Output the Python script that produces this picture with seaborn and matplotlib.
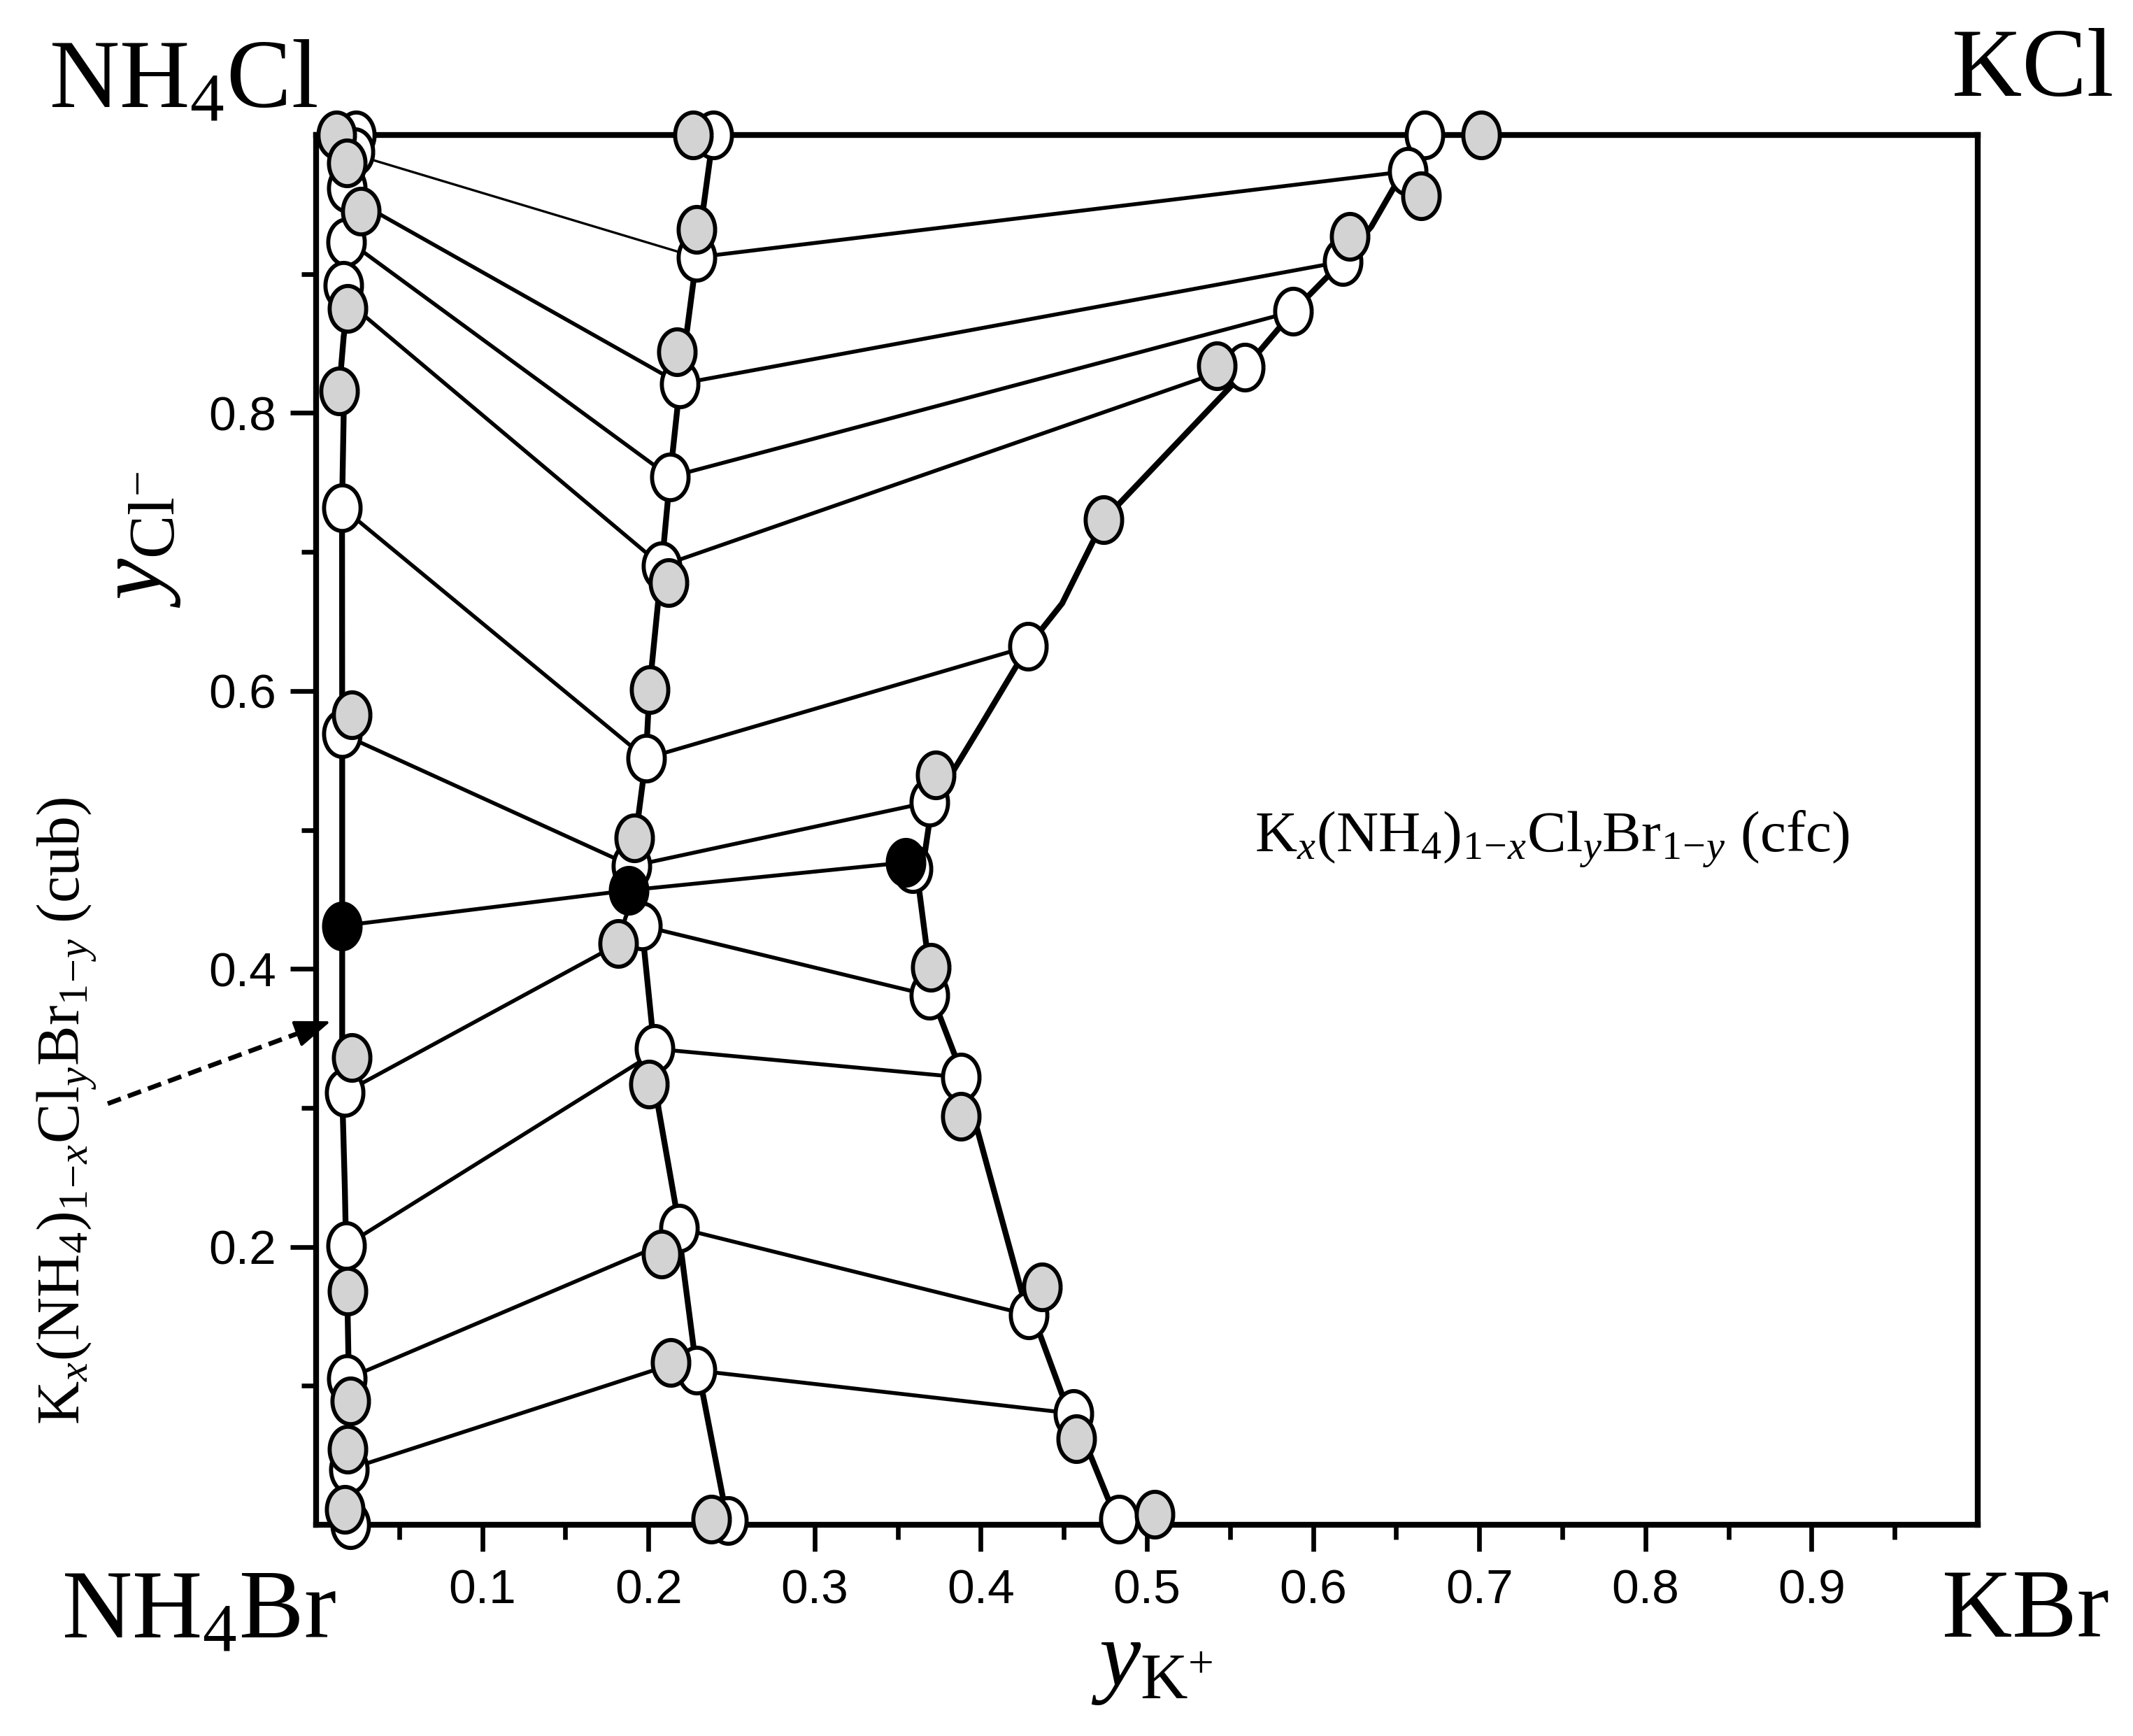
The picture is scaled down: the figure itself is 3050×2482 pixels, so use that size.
import numpy as np
import matplotlib
matplotlib.use("Agg")
import matplotlib.pyplot as plt
import matplotlib.font_manager as fm
from matplotlib.path import Path
import seaborn as sns

# ---------------- data ----------------
# branch curves (solid thick lines)
left_curve_x = [0.020, 0.019, 0.0166, 0.0147, 0.0166, 0.0156, 0.0157, 0.0157, 0.0157, 0.0173, 0.018, 0.019, 0.0197, 0.0205]
left_curve_y = [1.000, 0.875, 0.855, 0.828, 0.799, 0.732, 0.569, 0.431, 0.311, 0.242, 0.201, 0.151, 0.105, 0.000]

mid_curve_x = [0.239, 0.229, 0.219, 0.213, 0.208, 0.2006, 0.1985, 0.190, 0.188, 0.196, 0.2035, 0.206, 0.217, 0.220, 0.229, 0.2325, 0.248]
mid_curve_y = [1.000, 0.912, 0.821, 0.754, 0.690, 0.601, 0.5515, 0.474, 0.4565, 0.431, 0.3425, 0.300, 0.225, 0.194, 0.111, 0.0956, 0.000]

right_curve_x = [0.667, 0.657, 0.649, 0.635, 0.611, 0.588, 0.566, 0.552, 0.474, 0.449, 0.4285, 0.400, 0.384, 0.369, 0.363, 0.3674, 0.3747, 0.385, 0.398, 0.4245, 0.435, 0.4507, 0.466, 0.483]
right_curve_y = [1.000, 0.974, 0.963, 0.934, 0.901, 0.873, 0.842, 0.821, 0.723, 0.663, 0.632, 0.575, 0.5435, 0.505, 0.456, 0.4155, 0.368, 0.336, 0.284, 0.168, 0.139, 0.088, 0.050, 0.000]

# open circles (experimental)
white_x = [0.024, 0.023, 0.0185, 0.018, 0.0166, 0.0156, 0.0155, 0.0173, 0.018, 0.0186, 0.0197, 0.0207,
           0.239, 0.229, 0.219, 0.213, 0.208, 0.1985, 0.190, 0.196, 0.2035, 0.2186, 0.229, 0.248,
           0.667, 0.657, 0.618, 0.588, 0.559, 0.4285, 0.369, 0.359, 0.369, 0.388, 0.4287, 0.456, 0.483]
white_y = [1.000, 0.988, 0.962, 0.923, 0.892, 0.732, 0.569, 0.311, 0.201, 0.105, 0.040, 0.000,
           1.000, 0.912, 0.821, 0.754, 0.690, 0.5515, 0.474, 0.431, 0.3425, 0.2134, 0.111, 0.003,
           1.000, 0.974, 0.909, 0.873, 0.833, 0.632, 0.520, 0.472, 0.381, 0.322, 0.151, 0.080, 0.004]

# grey circles (calculated)
grey_x = [0.012, 0.0185, 0.027, 0.019, 0.014, 0.0214, 0.0214, 0.019, 0.0207, 0.019, 0.0173,
          0.227, 0.229, 0.217, 0.212, 0.2006, 0.1917, 0.182, 0.2003, 0.208, 0.2134, 0.238,
          0.701, 0.665, 0.622, 0.542, 0.474, 0.373, 0.370, 0.388, 0.437, 0.4577, 0.5046]
grey_y = [1.000, 0.980, 0.945, 0.875, 0.816, 0.583, 0.336, 0.168, 0.089, 0.0545, 0.011,
          1.000, 0.932, 0.844, 0.678, 0.601, 0.494, 0.418, 0.317, 0.195, 0.117, 0.004,
          1.000, 0.956, 0.927, 0.834, 0.723, 0.5395, 0.401, 0.294, 0.171, 0.0617, 0.0075]

# filled black circles (three-phase points)
black_x = [0.0155, 0.188, 0.355]
black_y = [0.431, 0.4565, 0.4766]

# tie lines
tie_x1 = [0.023, 0.025, 0.018, 0.019, 0.0156, 0.0155, 0.0155, 0.0173, 0.018, 0.0186, 0.0197,
          0.229, 0.219, 0.213, 0.208, 0.1985, 0.190, 0.188, 0.196, 0.2035, 0.2186, 0.229]
tie_y1 = [0.986, 0.952, 0.925, 0.880, 0.732, 0.569, 0.431, 0.311, 0.201, 0.105, 0.040,
          0.912, 0.821, 0.754, 0.690, 0.5515, 0.474, 0.4565, 0.431, 0.3425, 0.2134, 0.111]
tie_x2 = [0.229, 0.219, 0.213, 0.208, 0.1985, 0.190, 0.188, 0.182, 0.200, 0.205, 0.213,
          0.657, 0.618, 0.588, 0.545, 0.4285, 0.369, 0.355, 0.369, 0.388, 0.4287, 0.456]
tie_y2 = [0.912, 0.821, 0.754, 0.690, 0.5515, 0.474, 0.4565, 0.418, 0.337, 0.200, 0.115,
          0.974, 0.909, 0.873, 0.830, 0.632, 0.520, 0.4766, 0.381, 0.322, 0.151, 0.080]
tie_lw = [1.2] + [2.0] * 21

x_major = [0.1, 0.2, 0.3, 0.4, 0.5, 0.6, 0.7, 0.8, 0.9]
x_labels = ['0.1', '0.2', '0.3', '0.4', '0.5', '0.6', '0.7', '0.8', '0.9']
x_minor = [0.05, 0.15, 0.25, 0.35, 0.45, 0.55, 0.65, 0.75, 0.85, 0.95]
y_major = [0.2, 0.4, 0.6, 0.8]
y_labels = ['0.2', '0.4', '0.6', '0.8']
y_minor = [0.1, 0.3, 0.5, 0.7, 0.9]

arrow_tail = (-0.1254, 0.303)
arrow_base = (-0.0093, 0.3543)
arrow_tip = (0.0088, 0.3623)

# ---------------- style ----------------
sns.set_theme(style="ticks")
plt.rcParams['font.family'] = ['Liberation Serif', 'DejaVu Serif']
plt.rcParams['mathtext.fontset'] = 'custom'
plt.rcParams['mathtext.rm'] = 'Liberation Serif'
plt.rcParams['mathtext.it'] = 'Liberation Serif:italic'
plt.rcParams['mathtext.bf'] = 'Liberation Serif:bold'
plt.rcParams['text.color'] = 'black'
plt.rcParams['axes.labelcolor'] = 'black'
plt.rcParams['xtick.color'] = 'black'
plt.rcParams['ytick.color'] = 'black'

names = {f.name for f in fm.fontManager.ttflist}
if 'Liberation Sans Narrow' in names:
    tick_font, tick_size = 'Liberation Sans Narrow', 30
else:
    tick_font, tick_size = 'Liberation Sans', 25

fig = plt.figure(figsize=(15.25, 12.41), dpi=200)
ax = fig.add_axes([452 / 3050, 302 / 2482, 2376 / 3050, 1987 / 2482])
ax.set_xlim(0, 1)
ax.set_ylim(0, 1)

# branch curves
for cx, cy in [(left_curve_x, left_curve_y), (mid_curve_x, mid_curve_y), (right_curve_x, right_curve_y)]:
    sns.lineplot(x=cx, y=cy, sort=False, estimator=None, color='black', lw=3.0, ax=ax, zorder=3)

# tie lines
for x1, y1, x2, y2, lw in zip(tie_x1, tie_y1, tie_x2, tie_y2, tie_lw):
    ax.plot([x1, x2], [y1, y2], color='black', lw=lw, zorder=3, solid_capstyle='butt')

# elliptical marker
theta = np.linspace(0, 2 * np.pi, 80)
ell = Path(np.column_stack([0.8 * np.cos(theta), np.sin(theta)]))

common = dict(marker=ell, s=23.5 ** 2, edgecolor='black', linewidth=2.1, clip_on=False, ax=ax, legend=False)
sns.scatterplot(x=white_x, y=white_y, color='white', zorder=5, **common)
sns.scatterplot(x=grey_x, y=grey_y, color='#d3d3d3', zorder=6, **common)
sns.scatterplot(x=black_x, y=black_y, color='black', zorder=7, **common)

# axes / spines / ticks
for sp in ax.spines.values():
    sp.set_visible(True)
    sp.set_linewidth(3.0)
    sp.set_color('black')
ax.set_xticks(x_major)
ax.set_xticklabels(x_labels, fontfamily=tick_font, fontsize=tick_size, color='black')
ax.set_xticks(x_minor, minor=True)
ax.set_yticks(y_major)
ax.set_yticklabels(y_labels, fontfamily=tick_font, fontsize=tick_size, color='black')
ax.set_yticks(y_minor, minor=True)
ax.tick_params(which='major', direction='out', length=13.5, width=2.4, color='black', labelcolor='black')
ax.tick_params(axis='x', which='major', pad=9)
ax.tick_params(axis='y', which='major', pad=7)
ax.tick_params(which='minor', direction='out', length=7.5, width=2.4, color='black')
ax.tick_params(top=False, right=False, which='both')
ax.set_xlabel('')
ax.set_ylabel('')
ax.grid(False)

# corner compound labels
ax.text(-0.1608, 1.0196, r'NH$_4$Cl', fontsize=50, color='black', ha='left', va='baseline', clip_on=False)
ax.text(1.0817, 1.028, 'KCl', fontsize=50, color='black', ha='right', va='baseline', clip_on=False)
ax.text(-0.1532, -0.0815, r'NH$_4$Br', fontsize=50, color='black', ha='left', va='baseline', clip_on=False)
ax.text(1.0791, -0.0805, 'KBr', fontsize=50, color='black', ha='right', va='baseline', clip_on=False)

# axis labels
ax.text(0.503, -0.116, r'$y_{\mathrm{K}^{+}}$', fontsize=48, color='black', ha='center', va='baseline', clip_on=False)
ax.text(-0.093, 0.709, r'$y_{\mathrm{Cl}^{-}}$', fontsize=48, color='black', ha='center', va='baseline',
        rotation=90, rotation_mode='anchor', clip_on=False)

# phase labels
ax.text(0.565, 0.485, r'K$_x$(NH$_4$)$_{1\!-\!x}$Cl$_y$Br$_{1\!-\!y}$ (cfc)', fontsize=30, color='black',
        ha='left', va='baseline', clip_on=False)
ax.text(-0.1427, 0.072, r'K$_x$(NH$_4$)$_{1\!-\!x}$Cl$_y$Br$_{1\!-\!y}$ (cub)', fontsize=31, color='black',
        ha='left', va='baseline', rotation=90, rotation_mode='anchor', clip_on=False)

# dashed arrow: dashed shaft + solid filled head
ax.plot([arrow_tail[0], arrow_base[0]], [arrow_tail[1], arrow_base[1]], color='black', lw=2.4,
        ls=(0, (3, 1.6)), clip_on=False, zorder=4)
ax.annotate('', xy=arrow_tip, xytext=arrow_base, xycoords='data', textcoords='data',
            annotation_clip=False,
            arrowprops=dict(arrowstyle='-|>,head_length=0.8,head_width=0.3', lw=1.5,
                            color='black', mutation_scale=20, shrinkA=0, shrinkB=0))

fig.savefig('out.png', dpi=200, facecolor='white')
